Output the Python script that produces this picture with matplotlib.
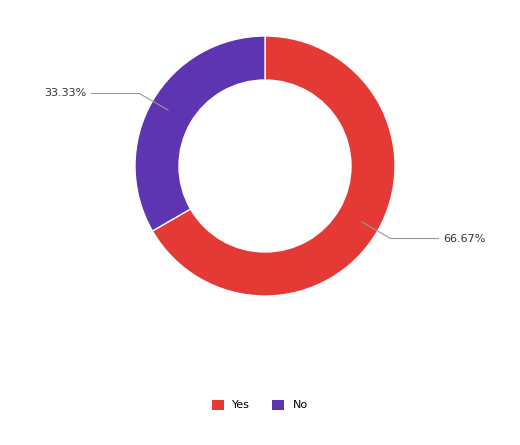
import matplotlib
matplotlib.use("Agg")
import matplotlib.pyplot as plt
import numpy as np
from matplotlib.patches import Patch

labels = ["Yes", "No"]
values = [66.67, 33.33]
colors = ["#E53935", "#5E35B1"]

fig = plt.figure(figsize=(5.2, 4.45), dpi=100)
ax = fig.add_axes([0, 0, 1, 1])
cx, cy, R = 265, 445 - 166, 130
wedges, _ = ax.pie(values, colors=colors, startangle=90, counterclock=False,
                   center=(cx, cy), radius=R, wedgeprops=dict(width=44, edgecolor="white", linewidth=1),
                   frame=True)
ax.set_xlim(0, 520); ax.set_ylim(0, 445); ax.axis("off"); ax.set_aspect("equal")

for w, v in zip(wedges, values):
    ang = np.deg2rad((w.theta1 + w.theta2) / 2)
    x0, y0 = cx + 112 * np.cos(ang), cy + 112 * np.sin(ang)
    x1, y1 = cx + 145 * np.cos(ang), cy + 145 * np.sin(ang)
    side = 1 if np.cos(ang) > 0 else -1
    x2 = x1 + side * 48
    ax.plot([x0, x1, x2], [y0, y1, y1], color="#999999", lw=0.8)
    ax.text(x2 + side * 5, y1, f"{v:.2f}%", ha="left" if side > 0 else "right",
            va="center", fontsize=8, color="#333333")

handles = [Patch(facecolor=c, label=l) for c, l in zip(colors, labels)]
fig.legend(handles=handles, loc="center", bbox_to_anchor=(0.5, 1 - 405 / 445), ncol=2,
           frameon=False, fontsize=8, handlelength=1.0, handleheight=1.0, columnspacing=2)
fig.savefig("out.png", dpi=100)
